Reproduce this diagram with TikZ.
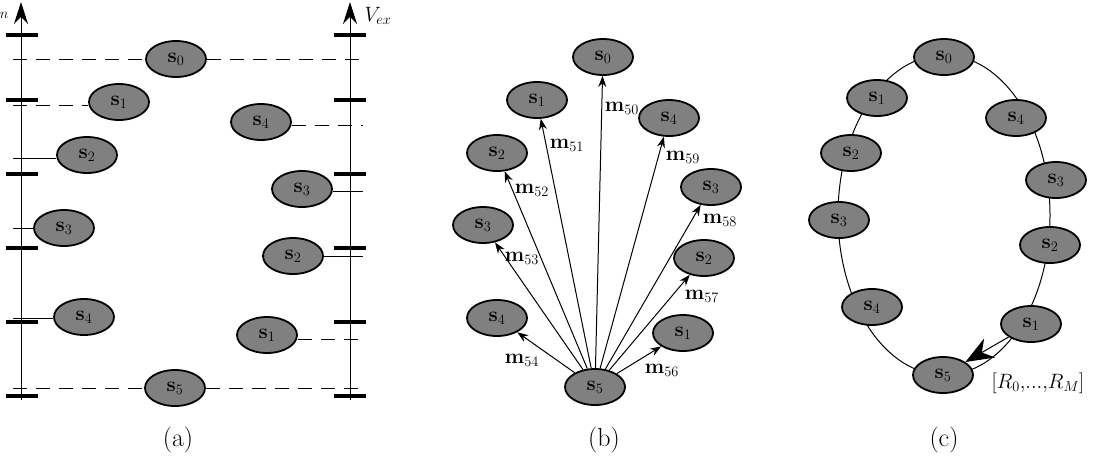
\documentclass[tikz,border=0pt]{standalone}
\usetikzlibrary{arrows.meta,shapes.geometric}
\begin{document}
\begin{tikzpicture}[x=1pt,y=-1pt,line width=1pt,
 st/.style={ellipse,draw,line width=1.8pt,fill=gray!100!white!50!black!100,fill=black!50,minimum width=60pt,minimum height=36pt,inner sep=0pt,font=\fontsize{21}{24}\selectfont},
 tk/.style={line width=4pt},
 dl/.style={dash pattern=on 14pt off 9pt},
 ar/.style={-{Stealth[length=11pt,width=8pt]}},
 ml/.style={font=\fontsize{21}{24}\selectfont}]
\useasboundingbox (0,0) rectangle (1099,463);
% panel a axes
\coordinate (la0) at (21,400); \coordinate (la1) at (21,2);
\coordinate (ra0) at (350,400); \coordinate (ra1) at (350,2);
\draw[-{Stealth[length=22pt,width=14pt]}] (la0) -- (la1);
\draw[-{Stealth[length=22pt,width=14pt]}] (ra0) -- (ra1);
\foreach \y in {35,100,174,248,322,396}{\draw[tk] (6,\y)--(38,\y); \draw[tk] (334,\y)--(366,\y);}
\node[font=\fontsize{14}{16}\selectfont] (nl) at (4,15) {$n$};
\node[font=\fontsize{22}{24}\selectfont] (vl) at (378,16) {$V_{ex}$};
\node[st] (a0) at (176,59) {$\mathbf{s}_0$};
\node[st] (a1) at (119,102) {$\mathbf{s}_1$};
\node[st] (a2) at (87,155) {$\mathbf{s}_2$};
\node[st] (a3) at (64,228) {$\mathbf{s}_3$};
\node[st] (a4) at (84,317) {$\mathbf{s}_4$};
\node[st] (a5) at (175,388) {$\mathbf{s}_5$};
\node[st] (b4) at (261,122) {$\mathbf{s}_4$};
\node[st] (b3) at (302,189) {$\mathbf{s}_3$};
\node[st] (b2) at (293,256) {$\mathbf{s}_2$};
\node[st] (b1) at (267,335) {$\mathbf{s}_1$};
\coordinate (p0l) at (13,59); \coordinate (p0r) at (363,59);
\coordinate (p1l) at (13,105); \coordinate (p2l) at (13,158);
\coordinate (p3l) at (13,228); \coordinate (p4l) at (13,318);
\coordinate (p5l) at (13,388); \coordinate (p5r) at (363,388);
\coordinate (q4) at (363,125); \coordinate (q3) at (363,191);
\coordinate (q2) at (363,256); \coordinate (q1) at (363,339);
\draw[dl] (p0l) -- (a0.west); \draw[dl] (a0.east) -- (p0r);
\draw[dl] (p1l) -- (a1.west|-p1l);
\draw (p2l) -- (a2.west|-p2l);
\draw (p3l) -- (a3.west);
\draw (p4l) -- (a4.west|-p4l);
\draw[dl] (p5l) -- (a5.west); \draw[dl] (a5.east) -- (p5r);
\draw[dl] (b4.east|-q4) -- (q4);
\draw (b3.east|-q3) -- (q3);
\draw (b2.east) -- (q2);
\draw[dl] (b1.east|-q1) -- (q1);
% panel b
\node[st] (c0) at (603,57) {$\mathbf{s}_0$};
\node[st] (c1) at (537,100) {$\mathbf{s}_1$};
\node[st] (c4) at (669,118) {$\mathbf{s}_4$};
\node[st] (c2) at (497,153) {$\mathbf{s}_2$};
\node[st] (c3r) at (711,187) {$\mathbf{s}_3$};
\node[st] (c3) at (483,225) {$\mathbf{s}_3$};
\node[st] (c2r) at (704,258) {$\mathbf{s}_2$};
\node[st] (c4l) at (497,318) {$\mathbf{s}_4$};
\node[st] (c1r) at (683,333) {$\mathbf{s}_1$};
\node[st] (c5) at (595,387) {$\mathbf{s}_5$};
\foreach \t in {c0,c1,c4,c2,c3r,c3,c2r,c4l,c1r}{\draw[ar] (c5) -- (\t);}
\node[ml] (m50) at (622,108) {$\mathbf{m}_{50}$};
\node[ml] (m51) at (567,145) {$\mathbf{m}_{51}$};
\node[ml] (m52) at (532,190) {$\mathbf{m}_{52}$};
\node[ml] (m53) at (522,258) {$\mathbf{m}_{53}$};
\node[ml] (m54) at (522,360) {$\mathbf{m}_{54}$};
\node[ml] (m56) at (662,370) {$\mathbf{m}_{56}$};
\node[ml] (m57) at (702,296) {$\mathbf{m}_{57}$};
\node[ml] (m58) at (720,220) {$\mathbf{m}_{58}$};
\node[ml] (m59) at (683,157) {$\mathbf{m}_{59}$};
% panel c
\draw (944,215) ellipse [x radius=106pt, y radius=160pt];
\node[st] (d0) at (944,57) {$\mathbf{s}_0$};
\node[st] (d4) at (1016,118) {$\mathbf{s}_4$};
\node[st] (d3) at (1056,180) {$\mathbf{s}_3$};
\node[st] (d2) at (1050,245) {$\mathbf{s}_2$};
\node[st] (d1) at (1031,324) {$\mathbf{s}_1$};
\node[st] (d1l) at (877,98) {$\mathbf{s}_1$};
\node[st] (d2l) at (851,153) {$\mathbf{s}_2$};
\node[st] (d3l) at (839,220) {$\mathbf{s}_3$};
\node[st] (d4l) at (872,307) {$\mathbf{s}_4$};
\node[st] (d5) at (943,375) {$\mathbf{s}_5$};
\draw[-{Stealth[length=28pt,width=22pt]}] (d1) -- (d5);
\node[font=\fontsize{21}{24}\selectfont] (rl) at (1038,383) {$[R_0,\!...,\!R_M]$};
\node[font=\fontsize{26}{30}\selectfont] (ca) at (178,440) {(a)};
\node[font=\fontsize{26}{30}\selectfont] (cb) at (604,440) {(b)};
\node[font=\fontsize{26}{30}\selectfont] (cc) at (944,440) {(c)};
\end{tikzpicture}
\end{document}
